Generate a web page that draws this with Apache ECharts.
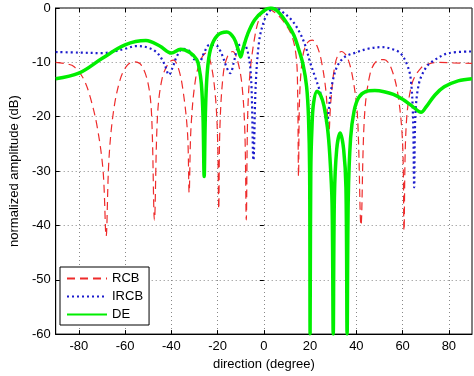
<!DOCTYPE html>
<html lang="en">
<head>
    <meta charset="UTF-8">
    <title>beam pattern</title>
    <script src="https://cdn.jsdelivr.net/npm/echarts@6/dist/echarts.min.js"></script>
    <style>
        html, body { margin: 0; padding: 0; background: #fff; }
        #main { width: 474px; height: 376px; }
    </style>
</head>
<body>
<div id="main"></div>
<script>
    // tick values
    var xTicks = [-80, -60, -40, -20, 0, 20, 40, 60, 80];
    var yTicks = [-60, -50, -40, -30, -20, -10, 0];

    // RCB (red dashed)
    var rcbDeg = [-90, -85, -82, -78, -75, -72, -69.5, -68.2, -67, -65, -62, -59, -56, -53, -50, -48.5, -47.3, -46, -44, -41,
        -39, -37, -35, -33, -32.3, -31.5, -29.5, -27, -25, -23, -21, -20, -19.5, -19, -17.5, -15.5, -13.5, -11.5, -9.5, -8.2,
        -7.6, -7, -6, -4, -2, 1, 4, 8, 12, 14, 14.6, 15, 15.5, 17, 19, 21, 23, 25, 27, 28, 29, 31, 33.5, 36, 38.5, 40.5, 42,
        43.5, 46, 49, 52, 55, 58, 60, 60.6, 61.5, 64, 68, 72, 76, 82, 90];
    var rcbDb = [-10, -10.3, -10.8, -13, -16.5, -22, -30, -42, -28, -19, -13, -10.5, -9.9, -10.5, -14, -20, -39, -20, -13, -10,
        -9.6, -11, -15, -23, -34, -22, -13, -9.3, -8.3, -10, -16, -24, -37, -22, -12, -8.7, -8, -9.5, -14, -23,
        -39, -20, -12, -5.5, -2, 0, -0.6, -2.2, -5, -9, -15, -31, -16, -8.5, -6.3, -5.9, -7, -10, -16, -24, -17, -10, -8, -9, -13, -20, -40,
        -20, -12, -9.7, -9.5, -11, -16, -25, -41, -22, -14, -11, -10.2, -10, -10.1, -10.2];

    // IRCB (blue dotted)
    var ircbDeg = [-90, -80, -70, -65, -60, -55, -50, -46, -43, -41, -39.5, -37.5, -35, -32.5, -30, -28, -26, -23.5, -21, -18.5,
        -16, -14.5, -13, -11, -9, -7, -5.5, -4.5, -3.5, -2, 0, 2, 5, 8, 12, 15.5, 18, 20, 22, 24, 26, 27.2, 28.5, 30, 32, 35,
        39, 45, 51, 55, 59, 62, 63.5, 64.5, 65, 65.5, 67, 70, 73, 80, 90];
    var ircbDb = [-8.1, -8.2, -8.3, -8, -7.5, -7, -7.3, -8.3, -10.3, -12.3, -11, -8.8, -7.5, -7.8, -9.5, -10, -8.4, -6.8, -6.8, -8.2,
        -11, -12, -10, -7, -6.5, -8, -13, -28, -14, -6, -2.5, -0.8, 0, -0.7, -2.2, -4.5, -7, -10, -12.5, -15, -18, -21.5, -17, -13, -10.5, -9,
        -8.3, -7.5, -7.2, -7.5, -8.3, -10.5, -13, -20, -33, -20, -14, -11, -9.8, -8.3, -8];

    // DE (green solid)
    var deDeg = [-90, -80, -70, -60, -51, -45, -40, -36, -32, -29, -28, -27, -26.3, -25.8, -25.3, -24.5, -23, -20, -16, -13, -11,
        -10, -9, -7, -4, 0, 3, 6, 10, 13, 15, 17, 18.5, 19.3, 19.8, 20, 20.3, 20.8, 21.5, 23, 24.5, 26, 27.5, 28.5, 29.5, 30,
        30.5, 31.5, 33, 34.5, 35.5, 36, 36.5, 37.5, 39, 41, 44, 48, 52, 56, 60, 64, 68, 70, 74, 78, 84, 90];
    var deDb = [-13, -12, -9.3, -6.8, -6, -7, -8.3, -7.6, -8.2, -9.5, -11, -14, -20, -31, -20, -12, -7.5, -5, -4.4, -5.5, -7.8,
        -9, -7.5, -4.8, -2.2, -0.5, 0, -0.6, -2.8, -5, -7.5, -10.5, -14.5, -20, -30, -60, -30, -22, -17.5, -15.3, -16, -18, -22, -27, -36, -60,
        -35, -26, -23, -26, -33, -60, -35, -24, -19, -16.5, -15.4, -15.2, -15.4, -15.9, -16.8, -18, -19.2, -18.3, -16, -14.5, -13.4, -13];

    function pairs(xs, ys) {
        var out = [];
        for (var i = 0; i < xs.length; i++) out.push([xs[i], ys[i]]);
        return out;
    }

    var font = 'Liberation Sans, Arial, sans-serif';
    var myChart = echarts.init(document.getElementById('main'));

    var option = {
        animation: false,
        backgroundColor: '#fff',
        grid: {
            left: 47, right: 2, top: 8, bottom: 37,
            show: true, borderColor: '#000', borderWidth: 1
        },
        legend: {
            orient: 'vertical',
            left: 60, top: 267,
            backgroundColor: '#fff',
            borderColor: '#000', borderWidth: 1,
            padding: [5, 6, 4, 6],
            itemWidth: 40, itemHeight: 14, itemGap: 5,
            itemStyle: { opacity: 0 },
            textStyle: { fontFamily: font, fontSize: 13, color: '#000' },
            data: ['RCB', 'IRCB', 'DE']
        },
        xAxis: [{
            type: 'value', min: -90, max: 90,
            name: 'direction (degree)', nameLocation: 'middle', nameGap: 20,
            nameTextStyle: { fontFamily: font, fontSize: 13, color: '#000' },
            axisLine: { show: true, onZero: false, lineStyle: { color: '#000' } },
            axisTick: { show: true, inside: true, length: 4, customValues: xTicks, lineStyle: { color: '#000' } },
            axisLabel: { customValues: xTicks, fontFamily: font, fontSize: 13, color: '#000', margin: 6 },
            splitLine: { show: true, lineStyle: { color: '#888', type: [1, 3] } }
        }, {
            type: 'value', min: -90, max: 90, position: 'top',
            axisLine: { show: false },
            axisTick: { show: true, inside: true, length: 4, customValues: xTicks, lineStyle: { color: '#000' } },
            axisLabel: { show: false },
            splitLine: { show: false }
        }],
        yAxis: [{
            type: 'value', min: -60, max: 0, interval: 10,
            name: 'normalized amplitude (dB)', nameLocation: 'middle', nameGap: 30,
            nameTextStyle: { fontFamily: font, fontSize: 13, color: '#000' },
            axisLine: { show: true, onZero: false, lineStyle: { color: '#000' } },
            axisTick: { show: true, inside: true, length: 4, lineStyle: { color: '#000' } },
            axisLabel: { fontFamily: font, fontSize: 13, color: '#000', margin: 5 },
            splitLine: { show: true, lineStyle: { color: '#888', type: [1, 3] } }
        }, {
            type: 'value', min: -60, max: 0, interval: 10, position: 'right',
            axisLine: { show: false },
            axisTick: { show: true, inside: true, length: 4, lineStyle: { color: '#000' } },
            axisLabel: { show: false },
            splitLine: { show: false }
        }],
        series: [{
            name: 'RCB', type: 'line', showSymbol: false, symbol: 'none',
            smooth: 0.35,
            lineStyle: { color: '#ee2b2b', width: 1.2, type: [8, 5] },
            itemStyle: { color: '#ee2b2b' },
            data: pairs(rcbDeg, rcbDb)
        }, {
            name: 'IRCB', type: 'line', showSymbol: false, symbol: 'none',
            smooth: 0.35,
            lineStyle: { color: '#1c1ccc', width: 2.2, type: [2, 3] },
            itemStyle: { color: '#1c1ccc' },
            data: pairs(ircbDeg, ircbDb)
        }, {
            name: 'DE', type: 'line', showSymbol: false, symbol: 'none',
            smooth: 0.35,
            lineStyle: { color: '#00ee00', width: 3.5 },
            itemStyle: { color: '#00ee00' },
            data: pairs(deDeg, deDb)
        }]
    };

    myChart.setOption(option);
</script>
</body>
</html>
